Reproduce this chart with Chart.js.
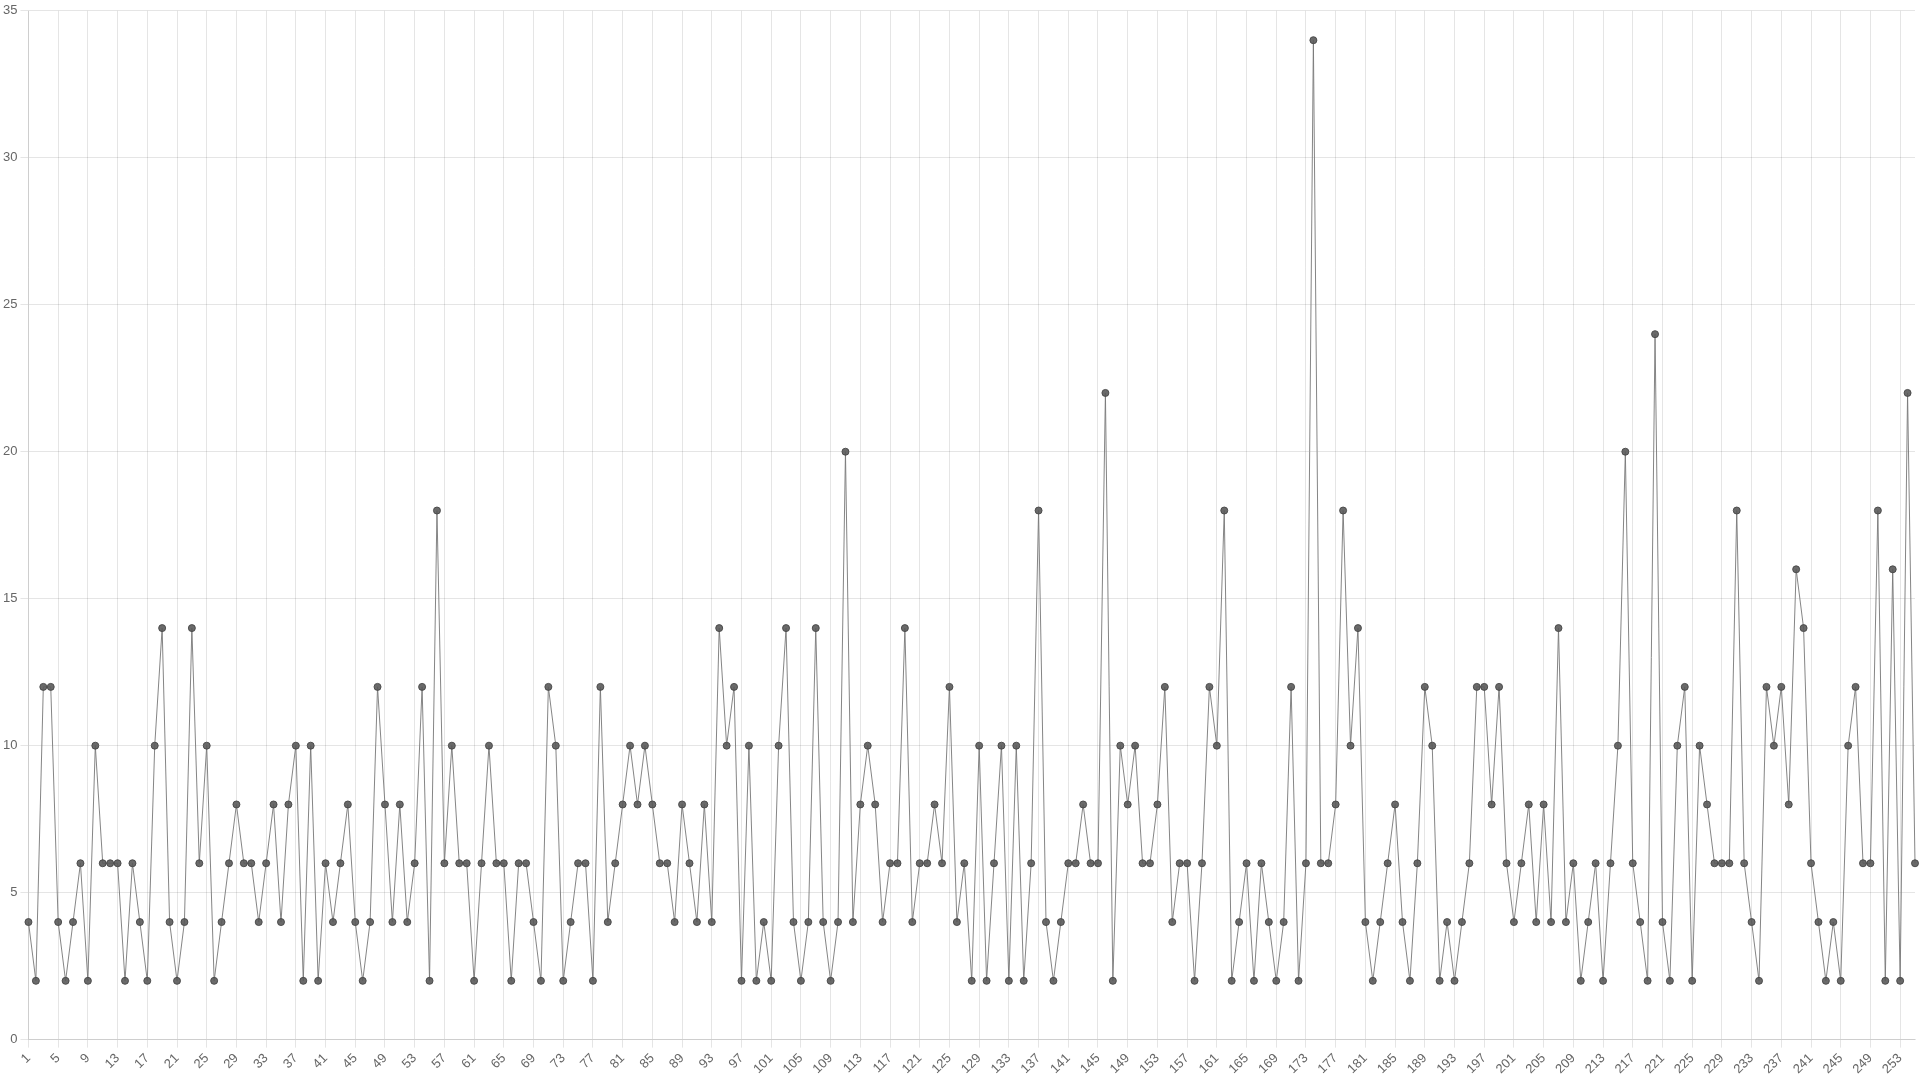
<!DOCTYPE html>
<html>
<head>
<meta charset="utf-8">
<script src="https://cdn.jsdelivr.net/npm/chart.js@4"></script>
<style>
  html, body { margin: 0; padding: 0; background: #ffffff; }
  #wrap { width: 1920px; height: 1080px; }
</style>
</head>
<body>
<div id="wrap"><canvas id="c" width="1920" height="1080"></canvas></div>
<script>
const values = [
  4,2,12,12,4,2,4,6,2,10,
  6,6,6,2,6,4,2,10,14,4,
  2,4,14,6,10,2,4,6,8,6,
  6,4,6,8,4,8,10,2,10,2,
  6,4,6,8,4,2,4,12,8,4,
  8,4,6,12,2,18,6,10,6,6,
  2,6,10,6,6,2,6,6,4,2,
  12,10,2,4,6,6,2,12,4,6,
  8,10,8,10,8,6,6,4,8,6,
  4,8,4,14,10,12,2,10,2,4,
  2,10,14,4,2,4,14,4,2,4,
  20,4,8,10,8,4,6,6,14,4,
  6,6,8,6,12,4,6,2,10,2,
  6,10,2,10,2,6,18,4,2,4,
  6,6,8,6,6,22,2,10,8,10,
  6,6,8,12,4,6,6,2,6,12,
  10,18,2,4,6,2,6,4,2,4,
  12,2,6,34,6,6,8,18,10,14,
  4,2,4,6,8,4,2,6,12,10,
  2,4,2,4,6,12,12,8,12,6,
  4,6,8,4,8,4,14,4,6,2,
  4,6,2,6,10,20,6,4,2,24,
  4,2,10,12,2,10,8,6,6,6,
  18,6,4,2,12,10,12,8,16,14,
  6,4,2,4,2,10,12,6,6,18,
  2,16,2,22,6
];
const categories = values.map((v, i) => String(i + 1));
const yTicks = { min: 0, max: 35, step: 5 };
const labelEvery = 4;

new Chart(document.getElementById('c'), {
  type: 'line',
  data: {
    labels: categories,
    datasets: [{
      data: values,
      borderColor: 'rgba(120,120,120,0.9)',
      borderWidth: 1,
      pointRadius: 3.5,
      pointBackgroundColor: 'rgba(90,90,90,0.9)',
      pointBorderColor: 'rgba(70,70,70,0.9)',
      pointBorderWidth: 1,
      tension: 0,
      fill: false
    }]
  },
  options: {
    responsive: false,
    animation: false,
    devicePixelRatio: 1,
    layout: { padding: { top: 4, right: 5, left: 0, bottom: 0 } },
    plugins: { legend: { display: false }, tooltip: { enabled: false } },
    scales: {
      x: {
        offset: false,
        grid: { color: 'rgba(0,0,0,0.1)' },
        ticks: {
          autoSkip: false,
          minRotation: 45,
          maxRotation: 45,
          color: '#666',
          font: { family: 'Liberation Sans, Arial, sans-serif', size: 13 },
          callback: function(val, idx) {
            return idx % labelEvery === 0 ? this.getLabelForValue(val) : null;
          }
        }
      },
      y: {
        min: yTicks.min,
        max: yTicks.max,
        grid: { color: 'rgba(0,0,0,0.1)' },
        ticks: {
          stepSize: yTicks.step,
          color: '#666',
          font: { family: 'Liberation Sans, Arial, sans-serif', size: 13 }
        }
      }
    }
  }
});
</script>
</body>
</html>
